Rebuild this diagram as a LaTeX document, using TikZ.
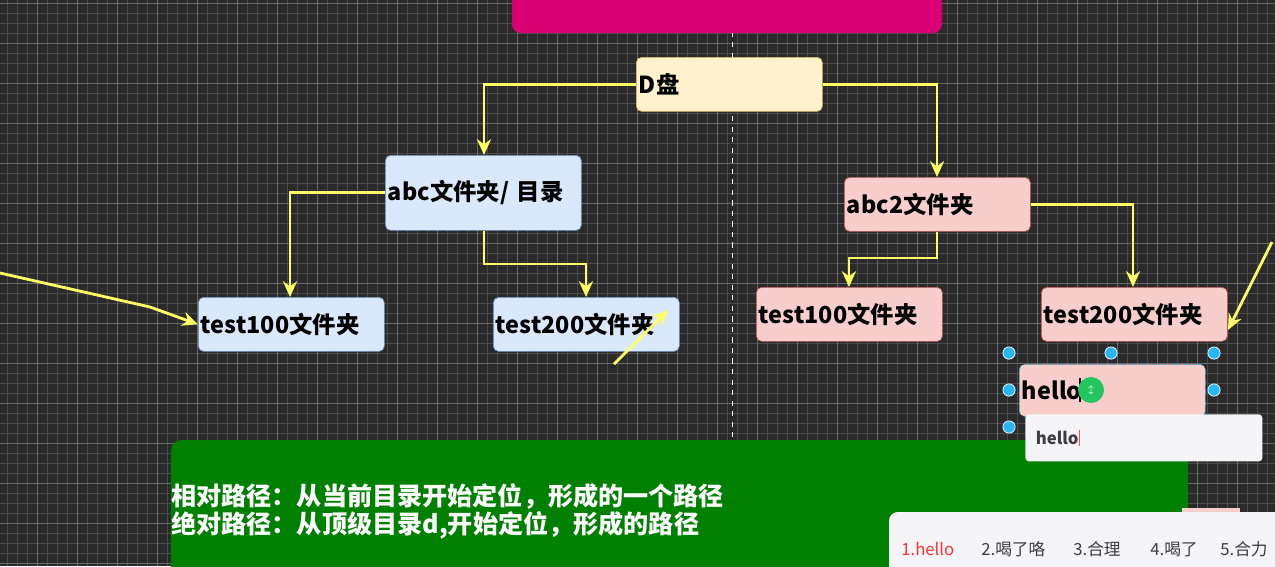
\documentclass[tikz,border=0pt]{standalone}
\usepackage{fontspec}
\setmainfont{Noto Sans CJK SC}
\usetikzlibrary{arrows.meta}
\definecolor{bg}{HTML}{2A2A2A}
\definecolor{gmin}{HTML}{4A4A4A}
\definecolor{gmaj}{HTML}{6A6A6A}
\definecolor{ylw}{HTML}{FFFF66}
\definecolor{mag}{HTML}{D80073}
\definecolor{pinkf}{HTML}{F8CECC}
\definecolor{pinkd}{HTML}{B85450}
\definecolor{bluef}{HTML}{DAE8FC}
\definecolor{blued}{HTML}{6C8EBF}
\definecolor{yelf}{HTML}{FFF2CC}
\definecolor{yeld}{HTML}{D6B656}
\definecolor{hnd}{HTML}{29B6F6}
\definecolor{grn}{HTML}{22C55E}
\definecolor{dgrn}{HTML}{008000}
\definecolor{paper}{HTML}{F5F5F7}
\definecolor{txtg}{HTML}{3C3C3C}
\tikzset{
 blue box/.style={draw=blued, fill=bluef, rounded corners=3pt, minimum height=54*0.02cm, anchor=north west, font=\fontsize{13.3}{15}\selectfont\bfseries, align=left, text width=186*0.02cm-3pt, inner xsep=1.5pt},
 pink box/.style={blue box, draw=pinkd, fill=pinkf},
 yarrow/.style={draw=ylw, line width=1.6pt, -{Stealth[length=9pt,width=8pt]}},
 handle/.style={circle, fill=hnd, draw=white, line width=0.4pt, minimum size=7pt, inner sep=0pt},
 cand/.style={anchor=west, inner sep=0pt, font=\fontsize{9.5}{10}\selectfont, text=txtg},
}
\begin{document}
\begin{tikzpicture}[x=0.02cm,y=-0.02cm]
\fill[bg] (0,0) rectangle (1275,566);
\useasboundingbox (0,0) rectangle (1275,566);
\foreach \i in {0,...,128} \draw[gmin,line width=0.3pt] (\i*10-3,0) -- (\i*10-3,566);
\foreach \i in {0,...,57} \draw[gmin,line width=0.3pt] (0,\i*10+3) -- (1275,\i*10+3);
\foreach \i in {0,...,32} \draw[gmaj,line width=0.5pt] (\i*40-3,0) -- (\i*40-3,566);
\foreach \i in {0,...,15} \draw[gmaj,line width=0.5pt] (0,\i*40+3) -- (1275,\i*40+3);
\draw[white!70,dashed,line width=0.4pt] (732,0) -- (732,566);
\fill[mag,rounded corners=5pt] (512,-10) rectangle (942,33);
% green panel
\fill[dgrn, rounded corners=6pt] (171,440) rectangle (1188,600);
\node[anchor=west, text=white, font=\fontsize{14.3}{16}\selectfont\bfseries, inner sep=0pt] (l1) at (171,496) {相对路径：从当前目录开始定位，形成的一个路径};
\node[anchor=west, text=white, font=\fontsize{14.3}{16}\selectfont\bfseries, inner sep=0pt] (l2) at (171,525) {绝对路径：从顶级目录d,开始定位，形成的路径};
% nodes
\node[blue box, draw=yeld, fill=yelf] (d) at (636,57) {D盘};
\node[blue box, minimum height=75*0.02cm, text width=196*0.02cm-3pt] (abc) at (385,155) {abc文件夹/ 目录};
\node[blue box] (t1) at (198,297) {test100文件夹};
\node[blue box] (t2) at (493,297) {test200文件夹};
\node[pink box] (abc2) at (844,177) {abc2文件夹};
\node[pink box] (t3) at (756,287) {test100文件夹};
\node[pink box] (t4) at (1041,287) {test200文件夹};
\node[pink box, draw=hnd, dashed, minimum height=52*0.02cm] (hello) at (1019,364) {hello};
\draw[black,line width=0.6pt] (1080,378) -- (1080,402);
\node[circle, fill=grn, minimum size=26*0.02cm, inner sep=0pt, font=\tiny, text=white] (mv) at (1091,390) {$\updownarrow$};
\foreach \p [count=\k] in {(1009,353),(1111,353),(1214,353),(1009,390),(1214,390),(1009,427)} \node[handle] (h\k) at \p {};
\node[fill=paper, rounded corners=2pt, minimum height=47*0.02cm, anchor=north west, text width=237*0.02cm-12pt, inner xsep=6pt, align=left, font=\fontsize{9.5}{10}\selectfont\bfseries, text=txtg] (inp) at (1025,414) {hello\textcolor{red!70}{\rule[-1pt]{0.6pt}{9pt}}};
\fill[pinkf] (1182,508) rectangle (1240,520);
\fill[paper, rounded corners=5pt] (889,512) rectangle (1290,600);
\node[cand, text=red!80] (c1) at (901,549) {1.hello};
\node[cand] (c2) at (981,549) {2.喝了咯};
\node[cand] (c3) at (1073,549) {3.合理};
\node[cand] (c4) at (1150,549) {4.喝了};
\node[cand] (c5) at (1220,549) {5.合力};
% connectors
\draw[yarrow] (d.west) -| (abc.north -| 484,0);
\draw[yarrow] (d.east) -| (abc2.north -| 937,0);
\draw[yarrow] (abc.west) -| (t1.north -| 290,0);
\draw[yarrow] (abc.south -| 484,0) -- (484,264) -| (t2.north -| 586,0);
\draw[yarrow] (abc2.south -| 937,0) -- (937,258) -| (t3.north -| 849,0);
\draw[yarrow] (abc2.east) -| (t4.north -| 1133,0);
\coordinate (f1) at (0,273);
\coordinate (f2) at (614,364);
\coordinate (f3) at (1272,242);
\draw[yarrow] (f1) -- (150,307) -- (t1.west);
\draw[yarrow] (f2) -- (668,310);
\draw[yarrow] (f3) -- (1228,330);
\end{tikzpicture}
\end{document}
